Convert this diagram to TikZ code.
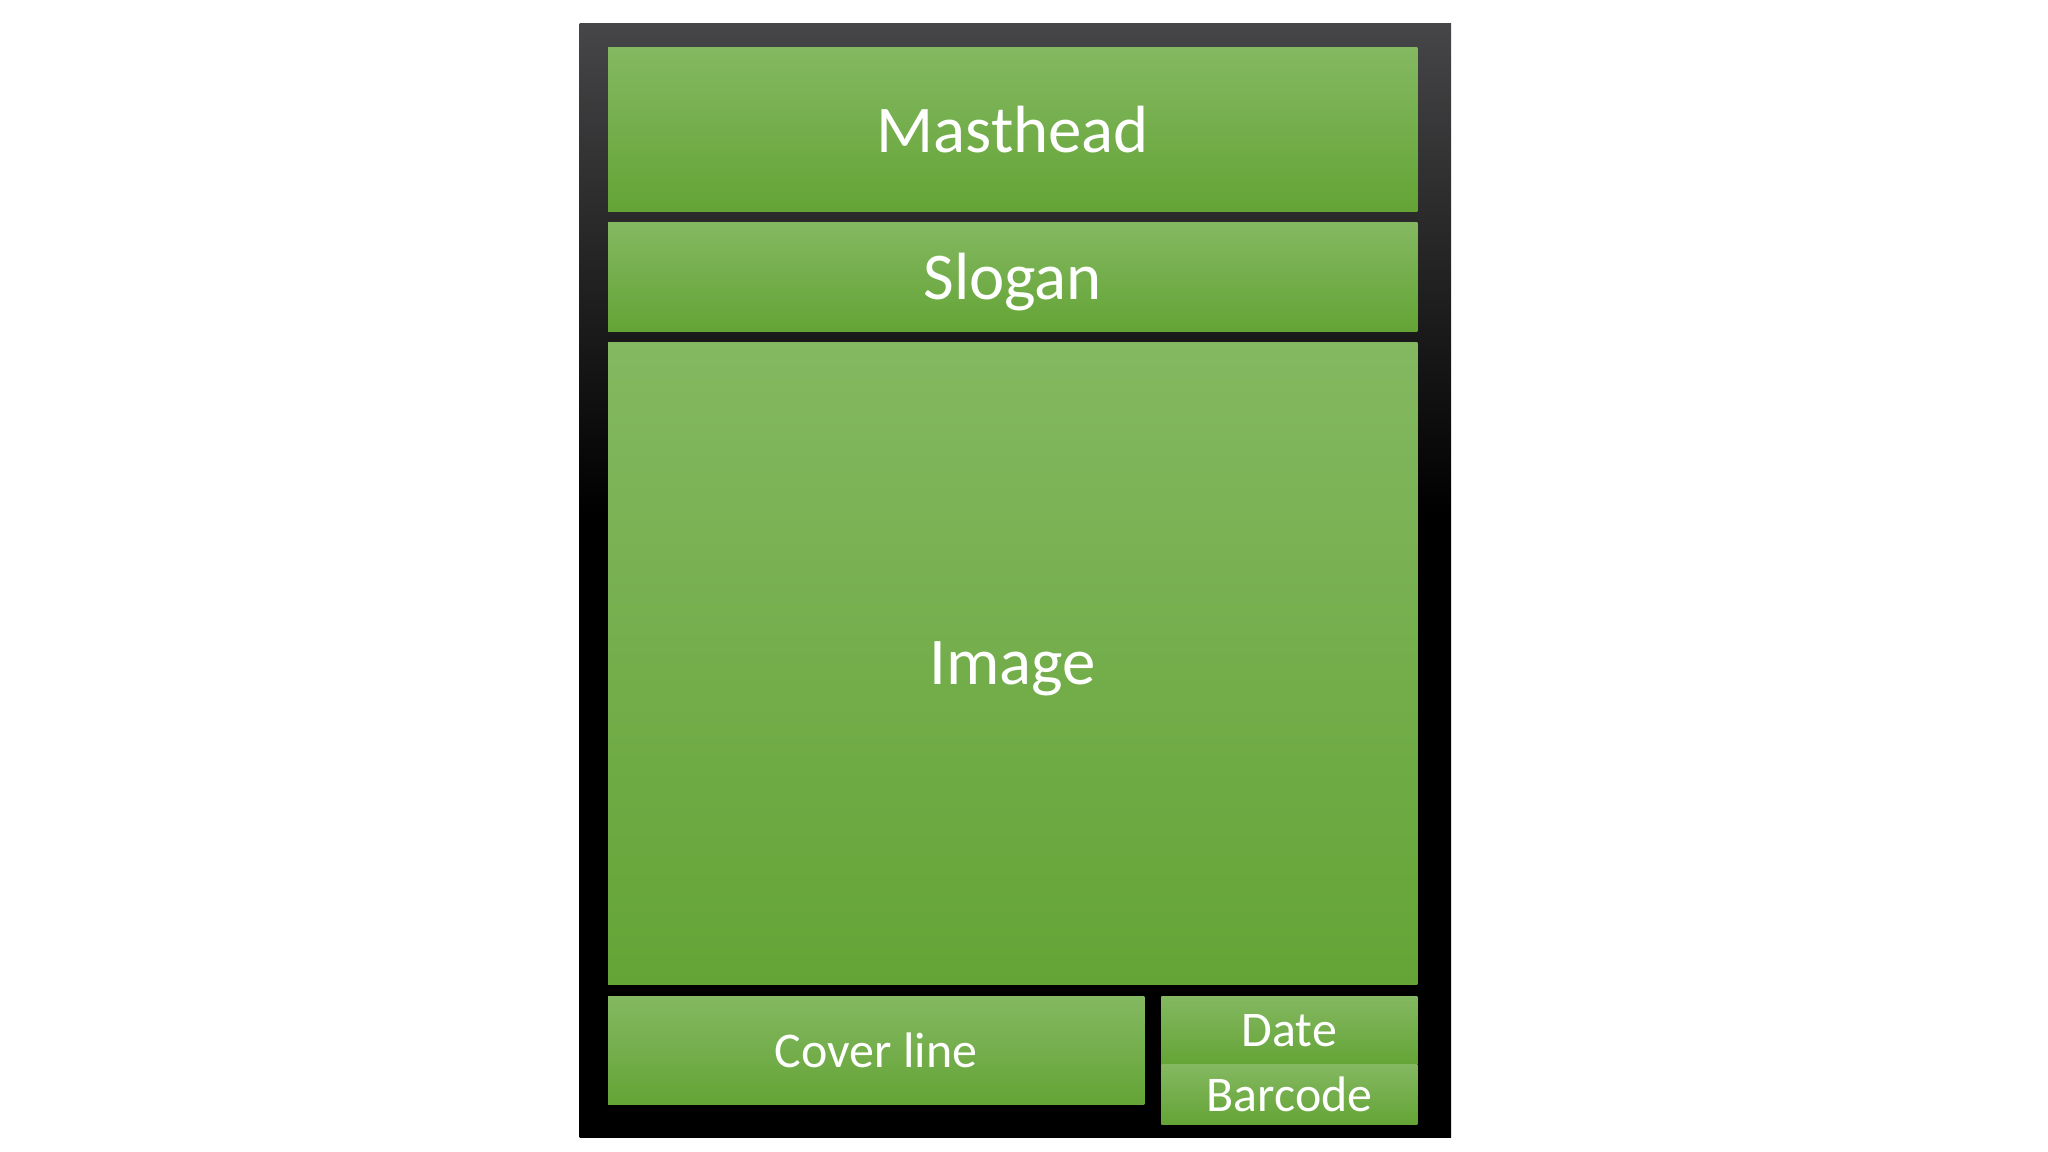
\documentclass[tikz,border=0pt]{standalone}
\usepackage{fontspec}
\setmainfont{Carlito}
\usetikzlibrary{positioning}
\definecolor{boxtop}{RGB}{132,184,97}
\definecolor{boxbot}{RGB}{100,164,54}
\definecolor{pagetop}{RGB}{70,70,72}
\pgfdeclareverticalshading{pagefade}{100bp}{color(0bp)=(black); color(53bp)=(black); color(75bp)=(pagetop); color(100bp)=(pagetop)}
\begin{document}
\begin{tikzpicture}[x=0.01cm,y=-0.01cm]
     \tikzstyle{part}=[rectangle, inner sep=0pt, outer sep=0pt, top color=boxtop, bottom color=boxbot, text=white, text depth=0pt, minimum width=8.09cm]
     \tikzstyle{big}=[part, font=\fontsize{19}{19}\selectfont]
     \tikzstyle{small}=[part, font=\fontsize{14.2}{14.2}\selectfont]
     \useasboundingbox (0,0) rectangle (2048,1152);
     % cover page
     \node[rectangle, inner sep=0pt, anchor=north west, minimum width=8.71cm, minimum height=11.13cm,
          shading=pagefade] (page) at (579,23) {};
     \node[big, anchor=north west, minimum height=1.63cm] (masthead) at (608,48) {Masthead};
     \node[big, below=0.11cm of masthead, minimum height=1.09cm] (slogan) {Slogan};
     \node[big, below=0.11cm of slogan, minimum height=6.42cm] (image) {Image};
     \node[small, below=0.12cm of image.south west, anchor=north west, minimum width=5.36cm, minimum height=1.08cm] (cover) {Cover line};
     \node[small, right=0.17cm of cover.north east, anchor=north west, minimum width=2.56cm, minimum height=0.68cm] (date) {Date};
     \node[small, below=0pt of date, minimum width=2.56cm, minimum height=0.60cm] (barcode) {Barcode};
\end{tikzpicture}
\end{document}
